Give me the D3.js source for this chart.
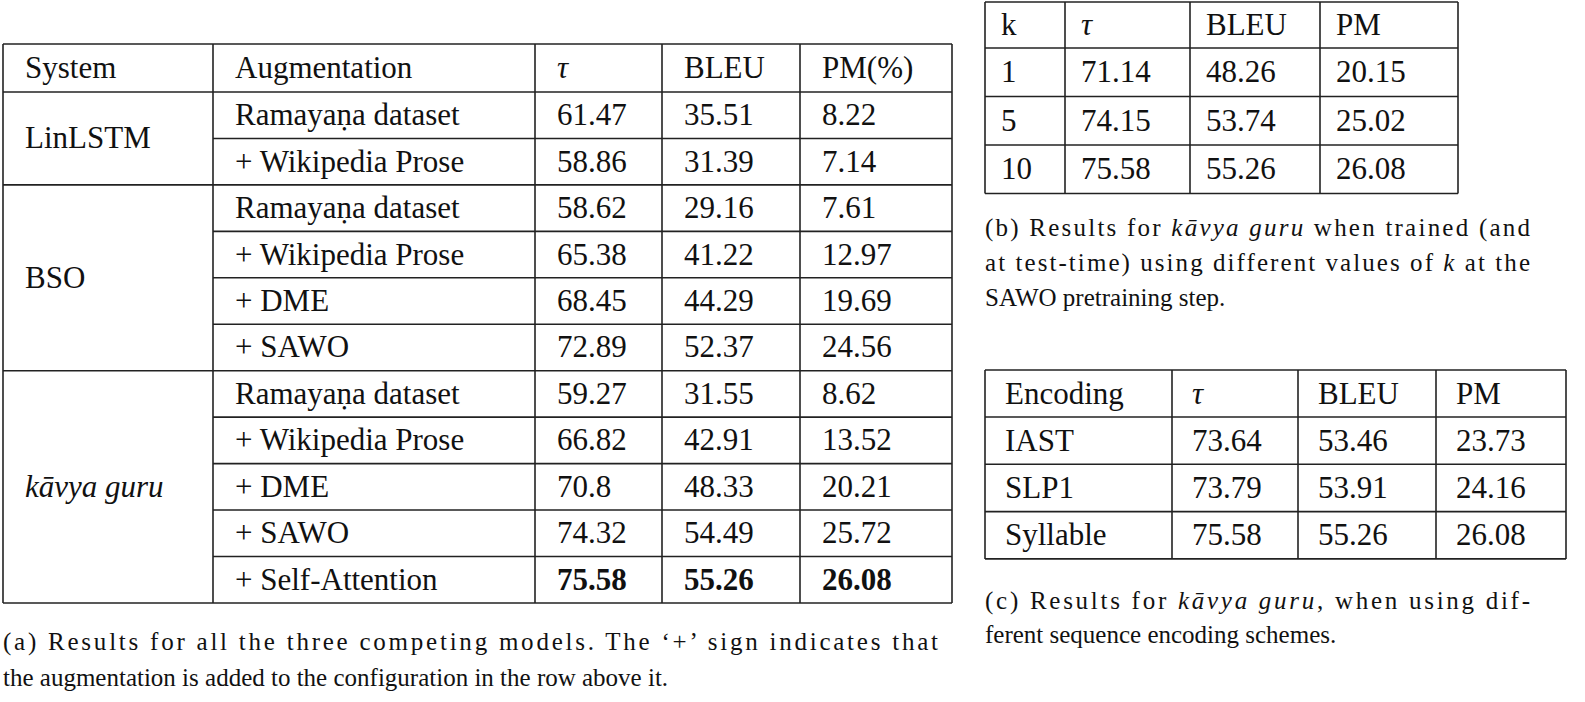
<!DOCTYPE html>
<html><head><meta charset="utf-8">
<script src="https://cdn.jsdelivr.net/npm/d3@7"></script>
<style>body{margin:0;background:#fff}svg{display:block}svg text{font-family:"Liberation Serif","Times New Roman",Times,"DejaVu Serif",serif !important;fill:#111}</style>
</head><body><svg id="c" width="1585" height="702" font-family="Liberation Serif, DejaVu Serif, serif"></svg>
<script>
const headersA = ["System","Augmentation","τ","BLEU","PM(%)"];
const systemsA = ["LinLSTM","BSO","kāvya guru"];
const groupSizes = [2,4,5];
const augA = ["Ramayaṇa dataset","+ Wikipedia Prose","Ramayaṇa dataset","+ Wikipedia Prose","+ DME","+ SAWO","Ramayaṇa dataset","+ Wikipedia Prose","+ DME","+ SAWO","+ Self-Attention"];
const tauA = ["61.47","58.86","58.62","65.38","68.45","72.89","59.27","66.82","70.8","74.32","75.58"];
const bleuA = ["35.51","31.39","29.16","41.22","44.29","52.37","31.55","42.91","48.33","54.49","55.26"];
const pmA = ["8.22","7.14","7.61","12.97","19.69","24.56","8.62","13.52","20.21","25.72","26.08"];
const headersB = ["k","τ","BLEU","PM"];
const kB = ["1","5","10"];
const tauB = ["71.14","74.15","75.58"];
const bleuB = ["48.26","53.74","55.26"];
const pmB = ["20.15","25.02","26.08"];
const headersC = ["Encoding","τ","BLEU","PM"];
const encC = ["IAST","SLP1","Syllable"];
const tauC = ["73.64","73.79","75.58"];
const bleuC = ["53.46","53.91","55.26"];
const pmC = ["23.73","24.16","26.08"];

const svg = d3.select("#c");
const FS = 31;

function table(g, cols, top, hdrH, rowH, nRows, headers, columns, opts={}) {
  const y = d3.scaleLinear().domain([0,nRows]).range([top+hdrH, top+hdrH+rowH*nRows]);
  const x0 = cols[0], x1 = cols[cols.length-1];
  const line = (a,b,c,d)=>g.append("line").attr("x1",a).attr("y1",b).attr("x2",c).attr("y2",d).attr("stroke","#222").attr("stroke-width",1.6);
  line(x0,top,x1,top); line(x0,y(nRows),x1,y(nRows)); line(x0,top+hdrH,x1,top+hdrH);
  cols.forEach(c=>line(c,top,c,y(nRows)));
  for (let i=1;i<nRows;i++){
    const xs = opts.rowStartCol && !opts.groupBreaks.includes(i) ? cols[1] : x0;
    line(xs,y(i),x1,y(i));
  }
  const pad = opts.pad||22;
  headers.forEach((h,j)=>{
    const t = g.append("text").attr("x",cols[j]+pad).attr("y",top+hdrH/2+10).attr("font-size",FS).text(h);
    if (h==="τ") t.attr("font-style","italic");
  });
  columns.forEach((col,j)=>{
    col.forEach((v,i)=>{
      const t = g.append("text").attr("x",cols[j+(opts.colOffset||0)]+pad).attr("y",(y(i)+y(i+1))/2+10).attr("font-size",FS).text(v);
      if (opts.boldRow===i && j>=1) t.attr("font-weight","bold");
    });
  });
  return y;
}

const ga = svg.append("g");
const breaks = d3.cumsum(groupSizes).slice(0,-1);
const yA = table(ga,[3,213,535,662,800,952],44,48,46.45,11,headersA,[augA,tauA,bleuA,pmA],{rowStartCol:true,groupBreaks:Array.from(breaks),colOffset:1,boldRow:10});
let start=0;
systemsA.forEach((s,i)=>{
  const end = start+groupSizes[i];
  const t = ga.append("text").attr("x",25).attr("y",(yA(start)+yA(end))/2+10).attr("font-size",FS).text(s);
  if (i===2) t.attr("font-style","italic");
  start=end;
});

const gb = svg.append("g");
table(gb,[985,1065,1190,1320,1458],2,46,48.5,3,headersB,[kB,tauB,bleuB,pmB],{groupBreaks:[],pad:16});

const gc = svg.append("g");
table(gc,[985,1172,1298,1436,1566],370,47,47.3,3,headersC,[encC,tauC,bleuC,pmC],{groupBreaks:[],pad:20});

function caption(x,y,lines,size,width,lh){
  lines.forEach((parts,i)=>{
    const t = svg.append("text").attr("x",x).attr("y",y+i*lh).attr("font-size",size);
    if (i<lines.length-1) t.attr("textLength",width).attr("lengthAdjust","spacing");
    parts.forEach(p=>{const s=t.append("tspan").text(p[0]); if(p[1]) s.attr("font-style","italic");});
  });
}
caption(3,650,[[["(a) Results for all the three competing models.  The ‘+’ sign indicates that"]],[["the augmentation is added to the configuration in the row above it."]]],25,935,36);
caption(985,236,[[["(b) Results for "],["kāvya guru",1],[" when trained (and"]],[["at test-time) using different values of "],["k",1],[" at the"]],[["SAWO pretraining step."]]],25,545,35);
caption(985,609,[[["(c) Results for "],["kāvya guru",1],[", when using dif-"]],[["ferent sequence encoding schemes."]]],25,545,34);
</script></body></html>
